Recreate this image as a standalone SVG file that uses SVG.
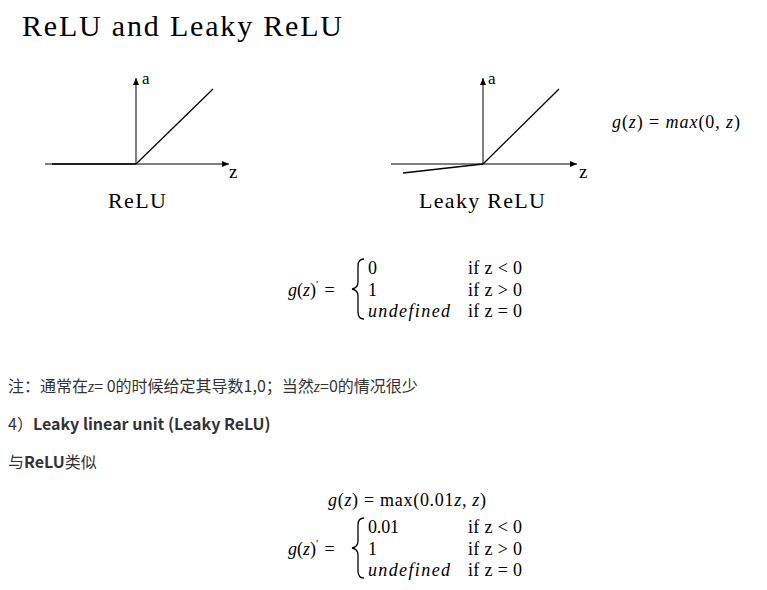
<svg xmlns="http://www.w3.org/2000/svg" width="767" height="590" viewBox="0 0 767 590">
<style>
.ax{stroke:#000;stroke-width:1;fill:none}
.ln{stroke:#000;stroke-width:1.3;fill:none}
.sf{font-family:"Liberation Serif",serif;fill:#000}
.m{font-family:"Liberation Serif",serif;font-size:18px;fill:#000}
.i{font-style:italic}
.cn{font-family:"Noto Sans CJK SC","Liberation Sans",sans-serif;font-size:16px;fill:#333}
.br{stroke:#000;stroke-width:1.3;fill:none}
</style>
<defs><marker id="ar" markerWidth="8" markerHeight="8" refX="7" refY="4" orient="auto" markerUnits="userSpaceOnUse"><path d="M0,1 L7,4 L0,7 Z" fill="#000"/></marker></defs>
<rect width="767" height="590" fill="#fff"/>
<text class="sf" x="22" y="36" font-size="30" textLength="320">ReLU and Leaky ReLU</text>
<g id="connectors">
<line class="ax" x1="45" y1="164" x2="229" y2="164" marker-end="url(#ar)"/>
<line class="ax" x1="136" y1="164" x2="136" y2="78" marker-end="url(#ar)"/>
<line class="ln" x1="52" y1="164" x2="136" y2="164"/>
<line class="ln" x1="136" y1="164" x2="213" y2="89"/>
<line class="ax" x1="391" y1="164" x2="577" y2="164" marker-end="url(#ar)"/>
<line class="ax" x1="483" y1="164" x2="483" y2="78" marker-end="url(#ar)"/>
<line class="ln" x1="403" y1="173" x2="483" y2="164"/>
<line class="ln" x1="483" y1="164" x2="559" y2="89"/>
</g>
<g id="relu"><text class="sf" x="142" y="84" font-size="17">a</text><text class="sf" x="229" y="178" font-size="19">z</text><text class="sf" x="137" y="208" font-size="22" text-anchor="middle" textLength="58">ReLU</text></g>
<g id="leaky"><text class="sf" x="488" y="84" font-size="17">a</text><text class="sf" x="579" y="178" font-size="19">z</text><text class="sf" x="482" y="208" font-size="22" text-anchor="middle" textLength="126">Leaky ReLU</text></g>
<text class="m" x="612" y="128" textLength="128"><tspan class="i">g</tspan>(<tspan class="i">z</tspan>) = <tspan class="i">max</tspan>(0, <tspan class="i">z</tspan>)</text>
<g id="f1">
<text class="m" x="288" y="296"><tspan class="i">g</tspan>(<tspan class="i">z</tspan>)<tspan font-size="11" dy="-8">′</tspan><tspan dy="8" dx="6">=</tspan></text>
<path class="br" d="M364,259 Q358,259 358,266 L358,282 Q358,288 352,289 Q358,290 358,296 L358,312 Q358,319 364,319"/>
<text class="m" x="368" y="274">0</text><text class="m" x="368" y="296">1</text><text class="m i" x="368" y="317" textLength="82">undefined</text>
<text class="m" x="468" y="274" textLength="54">if z &lt; 0</text><text class="m" x="468" y="296" textLength="54">if z &gt; 0</text><text class="m" x="468" y="317" textLength="54">if z = 0</text>
</g>
<text class="cn" x="8" y="392">注：通常在<tspan class="i" font-family="Liberation Serif">z</tspan>= 0的时候给定其导数1,0；当然<tspan class="i" font-family="Liberation Serif">z</tspan>=0的情况很少</text>
<text class="cn" x="8" y="430">4）<tspan font-weight="bold">Leaky linear unit (Leaky ReLU)</tspan></text>
<text class="cn" x="8" y="468">与<tspan font-weight="bold">ReLU</tspan>类似</text>
<text class="m" x="328" y="506" textLength="158"><tspan class="i">g</tspan>(<tspan class="i">z</tspan>) = max(0.01<tspan class="i">z</tspan>, <tspan class="i">z</tspan>)</text>
<g id="f2">
<text class="m" x="288" y="555"><tspan class="i">g</tspan>(<tspan class="i">z</tspan>)<tspan font-size="11" dy="-8">′</tspan><tspan dy="8" dx="6">=</tspan></text>
<path class="br" d="M364,518 Q358,518 358,525 L358,541 Q358,547 352,548 Q358,549 358,555 L358,571 Q358,578 364,578"/>
<text class="m" x="368" y="533" textLength="31">0.01</text><text class="m" x="368" y="555">1</text><text class="m i" x="368" y="576" textLength="82">undefined</text>
<text class="m" x="468" y="533" textLength="54">if z &lt; 0</text><text class="m" x="468" y="555" textLength="54">if z &gt; 0</text><text class="m" x="468" y="576" textLength="54">if z = 0</text>
</g>
</svg>
